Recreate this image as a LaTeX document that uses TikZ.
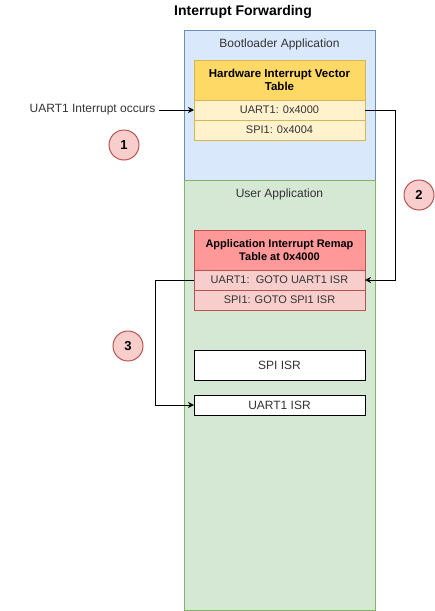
\documentclass[tikz,border=0pt]{standalone}
\usepackage{fontspec}
\setmainfont{Liberation Sans}
\usepackage{tikz}
\usetikzlibrary{positioning,arrows.meta}
\definecolor{bootcolor}{RGB}{218,232,252}
\definecolor{bootline}{RGB}{108,142,191}
\definecolor{usercolor}{RGB}{213,232,212}
\definecolor{userline}{RGB}{130,179,102}
\definecolor{vechdr}{RGB}{255,217,102}
\definecolor{vecrow}{RGB}{255,242,204}
\definecolor{vecline}{RGB}{214,182,86}
\definecolor{remaphdr}{RGB}{255,153,153}
\definecolor{remaprow}{RGB}{248,206,204}
\definecolor{remapline}{RGB}{184,84,80}
\definecolor{txtcolor}{RGB}{51,51,51}

\begin{document}
\begin{tikzpicture}[
  x=1pt, y=-1pt,
  region/.style  = {rectangle, line width=1pt, minimum width=191pt,
                    inner sep=0pt, outer sep=0pt},
  rtitle/.style  = {font=\fontsize{12}{14}\selectfont, text=txtcolor},
  hdr/.style     = {rectangle, line width=1pt, minimum width=171pt,
                    minimum height=40pt, align=center, inner sep=0pt,
                    outer sep=0pt, font=\fontsize{11.5}{13.5}\selectfont\bfseries},
  row/.style     = {rectangle, line width=1pt, minimum width=171pt,
                    minimum height=20pt, inner sep=0pt, outer sep=0pt,
                    font=\fontsize{11}{13}\selectfont, text=txtcolor},
  isr/.style     = {row, draw=black, fill=white,
                    font=\fontsize{12}{14}\selectfont},
  stepnum/.style = {circle, draw=remapline, fill=remaprow, line width=1pt,
                    minimum size=30pt, inner sep=0pt,
                    font=\fontsize{13}{15}\selectfont\bfseries},
  arr/.style     = {-{Stealth[length=6pt,width=6pt]}, line width=1pt},
  node distance  = 0pt
]
\useasboundingbox (0,0) rectangle (435,611);

\node[font=\fontsize{14}{16}\selectfont\bfseries] (title) at (243,12)
      {Interrupt Forwarding};

\node[region, fill=bootcolor, draw=bootline, minimum height=150pt] (boot)
      at (279.5,105) {};
\node[region, fill=usercolor, draw=userline, minimum height=430pt] (user)
      at (279.5,395) {};

\node[rtitle, below=5pt of boot.north] (boot-lbl) {Bootloader Application};
\node[rtitle, below=5pt of user.north] (user-lbl) {User Application};

\node[hdr, fill=vechdr, draw=vecline, below=30pt of boot.north] (hw-hdr)
      {Hardware Interrupt Vector\\Table};
\node[row, fill=vecrow, draw=vecline, below=of hw-hdr]  (hw-uart) {UART1: 0x4000};
\node[row, fill=vecrow, draw=vecline, below=of hw-uart] (hw-spi)  {SPI1: 0x4004};

\node[hdr, fill=remaphdr, draw=remapline, below=50pt of user.north,
      font=\fontsize{11}{13}\selectfont\bfseries] (rm-hdr)
      {Application Interrupt Remap\\Table at 0x4000};
\node[row, fill=remaprow, draw=remapline, below=of rm-hdr]  (rm-uart)
      {UART1:~~GOTO UART1 ISR};
\node[row, fill=remaprow, draw=remapline, below=of rm-uart] (rm-spi)
      {SPI1: GOTO SPI1 ISR};

\node[isr, minimum height=30pt, below=40pt of rm-spi] (spi-isr)  {SPI ISR};
\node[isr, below=15pt of spi-isr]                     (uart-isr) {UART1 ISR};

\node[rtitle, left=35pt of hw-uart] (irq) {UART1 Interrupt occurs};

\node[stepnum] (step-1) at (124,145) {1};
\node[stepnum] (step-2) at (419,195) {2};
\node[stepnum] (step-3) at (128,346) {3};

\draw[arr] (irq) -- (hw-uart);
\draw[arr] (hw-uart.east) -- ++(30,0) |- (rm-uart.east);
\draw[arr] (rm-uart.west) -- ++(-39,0) |- (uart-isr.west);
\end{tikzpicture}
\end{document}
